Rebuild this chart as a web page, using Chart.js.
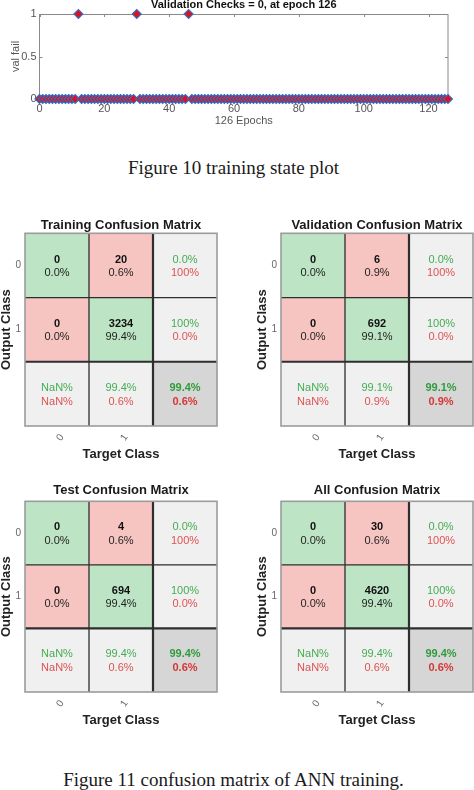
<!DOCTYPE html>
<html><head><meta charset="utf-8">
<script src="https://cdn.jsdelivr.net/npm/chart.js@4"></script>
<style>
html,body{margin:0;padding:0;background:#fff;width:474px;height:790px;overflow:hidden;position:relative;}
canvas{position:absolute;}
.cap{position:absolute;left:0;width:467px;text-align:center;font-family:"Liberation Serif","Times New Roman",serif;font-size:19px;line-height:19px;color:#1a1a1a;white-space:nowrap;}
</style></head><body>
<canvas id="state" width="474" height="135" style="left:0;top:0"></canvas>
<div class="cap" style="top:158px">Figure 10 training state plot</div>
<canvas id="cmTrain" width="237" height="270" style="left:0;top:200px"></canvas>
<canvas id="cmVal" width="237" height="270" style="left:256px;top:200px"></canvas>
<canvas id="cmTest" width="237" height="268" style="left:0;top:468px"></canvas>
<canvas id="cmAll" width="237" height="268" style="left:256px;top:468px"></canvas>
<div class="cap" style="top:770px">Figure 11 confusion matrix of ANN training.</div>
<script>
// ---------- data ----------
const stateTitle = 'Validation Checks = 0, at epoch 126';
const stateXTitle = '126 Epochs';
const stateYTitle = 'val fail';
const epochXTicks = [0, 20, 40, 60, 80, 100, 120];
const valFailYTicks = [0, 0.5, 1];
const valFail = [
  0,0,0,0,0,0,0,0,0,0,
  0,0,1,0,0,0,0,0,0,0,
  0,0,0,0,0,0,0,0,0,0,
  1,0,0,0,0,0,0,0,0,0,
  0,0,0,0,0,0,1,0,0,0,
  0,0,0,0,0,0,0,0,0,0,
  0,0,0,0,0,0,0,0,0,0,
  0,0,0,0,0,0,0,0,0,0,
  0,0,0,0,0,0,0,0,0,0,
  0,0,0,0,0,0,0,0,0,0,
  0,0,0,0,0,0,0,0,0,0,
  0,0,0,0,0,0,0,0,0,0,
  0,0,0,0,0,0,0
];

const classLabels = ['0', '1'];
const trainCounts = [[0, 20], [0, 3234]];
const valCounts   = [[0, 6],  [0, 692]];
const testCounts  = [[0, 4],  [0, 694]];
const allCounts   = [[0, 30], [0, 4620]];
const matrixTitles = ['Training Confusion Matrix', 'Validation Confusion Matrix', 'Test Confusion Matrix', 'All Confusion Matrix'];

// ---------- style ----------
Chart.defaults.font.family = '"Liberation Sans", Arial, Helvetica, sans-serif';
const FONT = '"Liberation Sans", Arial, Helvetica, sans-serif';
const C_GREEN = '#bde4c5', C_RED = '#f6c5c2', C_GRAY = '#f0f0f0', C_DGRAY = '#d6d6d6';
const T_GREEN = '#44ad50', T_RED = '#df5252', T_GREEN_B = '#2f9c3c', T_RED_B = '#d83636';

// ---------- training state plot ----------
const boxPlugin = {
  id: 'box',
  beforeDatasetsDraw(chart) {
    const {ctx, chartArea: a, scales: {x, y}} = chart;
    ctx.save();
    ctx.strokeStyle = '#8a8a8a';
    ctx.lineWidth = 1;
    ctx.strokeRect(a.left, a.top + 0.5, a.right - a.left, a.bottom - a.top);
    ctx.beginPath();
    epochXTicks.forEach(v => {
      const px = Math.round(x.getPixelForValue(v)) + 0.5;
      ctx.moveTo(px, a.bottom); ctx.lineTo(px, a.bottom - 3);
      ctx.moveTo(px, a.top); ctx.lineTo(px, a.top + 3);
    });
    valFailYTicks.forEach(v => {
      const py = Math.round(y.getPixelForValue(v)) + 0.5;
      ctx.moveTo(a.left, py); ctx.lineTo(a.left + 3, py);
      ctx.moveTo(a.right, py); ctx.lineTo(a.right - 3, py);
    });
    ctx.stroke();
    ctx.restore();
  }
};

new Chart(document.getElementById('state'), {
  type: 'line',
  data: {
    datasets: [{
      data: valFail.map((v, i) => ({x: i, y: v})),
      showLine: false,
      pointStyle: 'rectRot',
      pointRadius: 4.5,
      pointBorderWidth: 1.1,
      pointBorderColor: '#2f6fc2',
      pointBackgroundColor: '#e2101e',
      clip: false
    }]
  },
  options: {
    responsive: false, animation: false, events: [],
    layout: {padding: {left: 0, right: 26, top: 0, bottom: 0}},
    plugins: {
      legend: {display: false}, tooltip: {enabled: false},
      title: {display: true, fullSize: false, text: stateTitle, color: '#111',
        font: {size: 11, weight: 'bold', lineHeight: 1.2}, padding: {top: -1.5, bottom: 2.3}}
    },
    scales: {
      x: {
        type: 'linear', min: 0, max: 126,
        afterBuildTicks: s => { s.ticks = epochXTicks.map(v => ({value: v})); },
        afterFit: s => { s.height = 36; },
        grid: {display: false, drawTicks: false}, border: {display: false},
        ticks: {font: {size: 11}, color: '#555', padding: 3, maxRotation: 0},
        title: {display: true, text: stateXTitle, color: '#555', font: {size: 11, lineHeight: 1.2}, padding: {top: 0, bottom: 7.5}}
      },
      y: {
        min: 0, max: 1,
        afterBuildTicks: s => { s.ticks = valFailYTicks.map(v => ({value: v})); },
        afterFit: s => { s.width = 39.5; },
        grid: {display: false, drawTicks: false}, border: {display: false},
        ticks: {font: {size: 11}, color: '#555', padding: 3, callback: v => String(v)},
        title: {display: true, text: stateYTitle, color: '#555', font: {size: 11, lineHeight: 1.2}, padding: {top: 9, bottom: 0}}
      }
    }
  },
  plugins: [boxPlugin]
});

// ---------- confusion matrices ----------
function fmtPct(v) {
  if (v === 100) return '100%';
  return v.toFixed(1) + '%';
}

function makeMatrix(id, title, counts, o) {
  const n = classLabels.length;
  const cellColors = [
    [C_GREEN, C_RED, C_GRAY],
    [C_RED, C_GREEN, C_GRAY],
    [C_GRAY, C_GRAY, C_DGRAY]
  ];
  const rows = n + 1;
  const datasets = cellColors.map(colors => ({
    data: colors.map(() => 1),
    backgroundColor: colors,
    borderWidth: 0,
    barPercentage: 1, categoryPercentage: 1,
    stack: 'cells'
  }));

  const total = counts.flat().reduce((a, b) => a + b, 0);
  const rowSum = r => counts[r].reduce((a, b) => a + b, 0);
  const colSum = c => counts.reduce((a, row) => a + row[c], 0);
  const diag = counts.reduce((a, row, i) => a + row[i], 0);

  const matrixPlugin = {
    id: 'matrix',
    afterDatasetsDraw(chart) {
      const {ctx, scales: {x: xs, y: ys}} = chart;
      const half = (xs.getPixelForValue(1) - xs.getPixelForValue(0)) / 2;
      const xb = i => xs.getPixelForValue(i) - half;
      const yb = r => ys.getPixelForValue(r);
      ctx.save();
      ctx.strokeStyle = '#2e2e2e';
      ctx.lineWidth = 1.3;
      ctx.beginPath();
      ctx.moveTo(xb(1), yb(0)); ctx.lineTo(xb(1), yb(rows));
      ctx.moveTo(xb(0), yb(1)); ctx.lineTo(xb(rows), yb(1));
      ctx.stroke();
      ctx.lineWidth = 2.2;
      ctx.beginPath();
      ctx.moveTo(xb(2), yb(0)); ctx.lineTo(xb(2), yb(rows));
      ctx.moveTo(xb(0), yb(2)); ctx.lineTo(xb(rows), yb(2));
      ctx.stroke();
      ctx.strokeStyle = '#9c9c9c';
      ctx.lineWidth = 1.6;
      ctx.strokeRect(xb(0), yb(0), xb(rows) - xb(0), yb(rows) - yb(0));

      ctx.textAlign = 'center';
      ctx.textBaseline = 'middle';
      const two = (c, r, t1, f1, c1, t2, f2, c2) => {
        const px = xs.getPixelForValue(c);
        const py = ys.getPixelForValue(r + 0.5);
        ctx.font = f1; ctx.fillStyle = c1; ctx.fillText(t1, px, py - 5.8);
        ctx.font = f2; ctx.fillStyle = c2; ctx.fillText(t2, px, py + 7.6);
      };
      const B = 'bold 11px ' + FONT, N = '11px ' + FONT;
      for (let r = 0; r < n; r++) {
        for (let c = 0; c < n; c++) {
          two(c, r, String(counts[r][c]), B, '#111', fmtPct(counts[r][c] / total * 100), N, '#1e1e1e');
        }
        const p = counts[r][r] / rowSum(r) * 100;
        two(n, r, fmtPct(p), N, T_GREEN, fmtPct(100 - p), N, T_RED);
      }
      for (let c = 0; c < n; c++) {
        const p = counts[c][c] / colSum(c) * 100;
        two(c, n, fmtPct(p), N, T_GREEN, fmtPct(100 - p), N, T_RED);
      }
      const acc = diag / total * 100;
      two(n, n, fmtPct(acc), B, T_GREEN_B, fmtPct(100 - acc), B, T_RED_B);
      ctx.restore();
    }
  };

  new Chart(document.getElementById(id), {
    type: 'bar',
    data: {labels: [...classLabels, ''], datasets},
    options: {
      responsive: false, animation: false, events: [],
      layout: {padding: {left: 0, right: 20, top: 0, bottom: 0}},
      plugins: {
        legend: {display: false}, tooltip: {enabled: false},
        title: {display: true, fullSize: false, text: title, color: '#1a1a1a',
          font: {size: 13, weight: 'bold', lineHeight: 1}, padding: {top: o.tpt, bottom: o.tpb}}
      },
      scales: {
        x: {
          type: 'category', stacked: true,
          grid: {display: false, drawTicks: false}, border: {display: false},
          ticks: {font: {size: 10}, color: '#666', minRotation: 55, maxRotation: 55, padding: 6, labelOffset: 5},
          afterFit: s => { s.height = 44; },
          title: {display: true, text: 'Target Class', color: '#222',
            font: {size: 13, weight: 'bold', lineHeight: 1}, padding: {top: 0, bottom: 9.5}}
        },
        y: {
          type: 'linear', stacked: true, min: 0, max: rows, reverse: true,
          afterBuildTicks: s => { s.ticks = classLabels.map((l, i) => ({value: i + 0.5})); },
          afterFit: s => { s.width = 25; },
          grid: {display: false, drawTicks: false}, border: {display: false},
          ticks: {font: {size: 10}, color: '#666', padding: 4, callback: (v, i) => classLabels[i]},
          title: {display: true, text: 'Output Class', color: '#222',
            font: {size: 13, weight: 'bold', lineHeight: 1}, padding: {top: 0, bottom: 0}}
        }
      }
    },
    plugins: [matrixPlugin]
  });
}

makeMatrix('cmTrain', matrixTitles[0], trainCounts, {tpt: 18.5, tpb: 1.8});
makeMatrix('cmVal',   matrixTitles[1], valCounts,   {tpt: 18.5, tpb: 1.8});
makeMatrix('cmTest',  matrixTitles[2], testCounts,  {tpt: 16.2, tpb: 4.1});
makeMatrix('cmAll',   matrixTitles[3], allCounts,   {tpt: 16.2, tpb: 4.1});
</script>
</body></html>
